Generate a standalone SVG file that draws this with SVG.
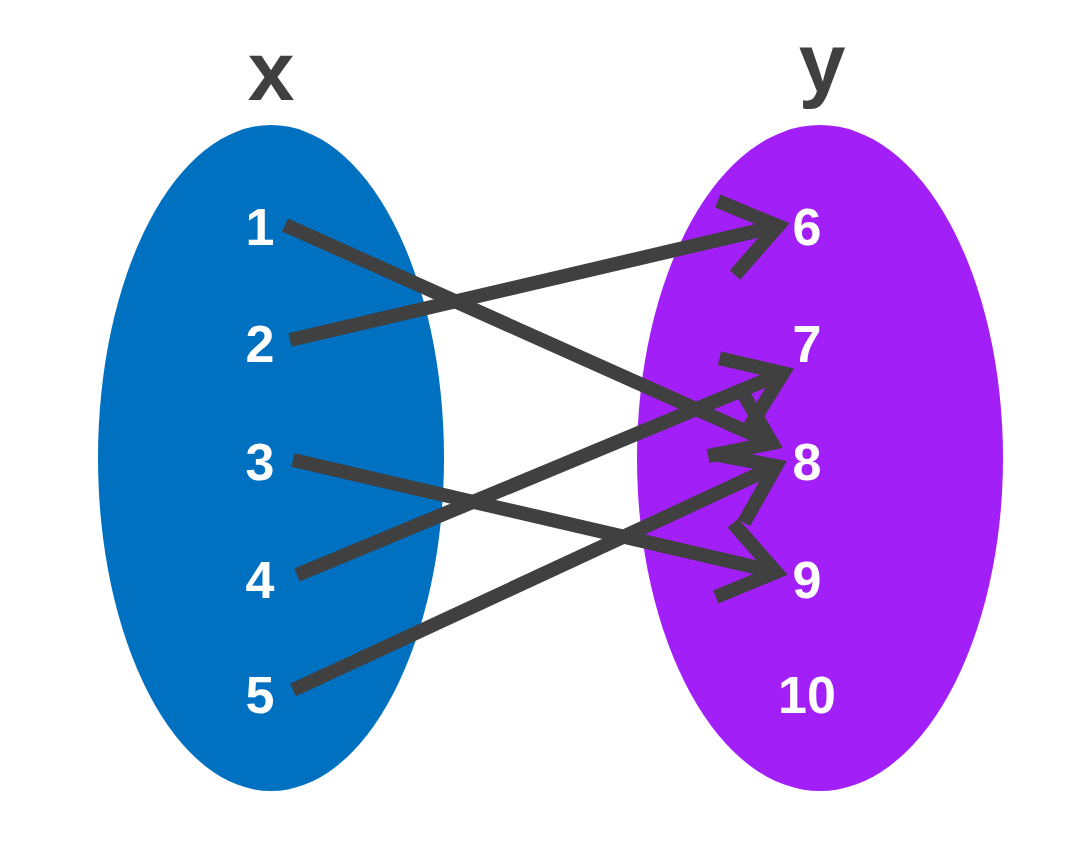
<svg xmlns="http://www.w3.org/2000/svg" width="1080" height="846" viewBox="0 0 1080 846">
<style>
.n{font-family:"Liberation Sans",Arial,sans-serif;font-weight:bold;font-size:52px;fill:#fff;text-anchor:middle}
.h{font-family:"Liberation Sans",Arial,sans-serif;font-weight:bold;font-size:84px;fill:#404040;text-anchor:middle}
.a{fill:none;stroke:#404040;stroke-width:14}
</style>
<defs>
<marker id="ar" markerUnits="userSpaceOnUse" orient="auto" markerWidth="120" markerHeight="120" refX="0" refY="0" viewBox="-70 -60 120 120" overflow="visible">
<path d="M-53,-38 L0,0 L-53,38" fill="none" stroke="#404040" stroke-width="14"/>
</marker>
</defs>
<rect width="1080" height="846" fill="#fff"/>
<g id="setX"><ellipse cx="271" cy="458" rx="173" ry="333" fill="#0070C0"/>
<text class="h" x="271" y="100">x</text>
<text class="n" x="260" y="245">1</text><text class="n" x="260" y="362">2</text><text class="n" x="260" y="480">3</text><text class="n" x="260" y="598">4</text><text class="n" x="260" y="713">5</text></g>
<g id="setY"><ellipse cx="820" cy="458" rx="183" ry="333" fill="#A31FF8"/>
<text class="h" x="822" y="92">y</text>
<text class="n" x="807" y="245">6</text><text class="n" x="807" y="362">7</text><text class="n" x="807" y="480">8</text><text class="n" x="807" y="598">9</text><text class="n" x="807" y="713">10</text></g>
<g id="connectors">
<path class="a" d="M285,225 L772,443" marker-end="url(#ar)"/>
<path class="a" d="M290,340 L778,226" marker-end="url(#ar)"/>
<path class="a" d="M293,460 L776,572" marker-end="url(#ar)"/>
<path class="a" d="M297,575 L783,373" marker-end="url(#ar)"/>
<path class="a" d="M293,690 L776,466" marker-end="url(#ar)"/>
</g>
</svg>
